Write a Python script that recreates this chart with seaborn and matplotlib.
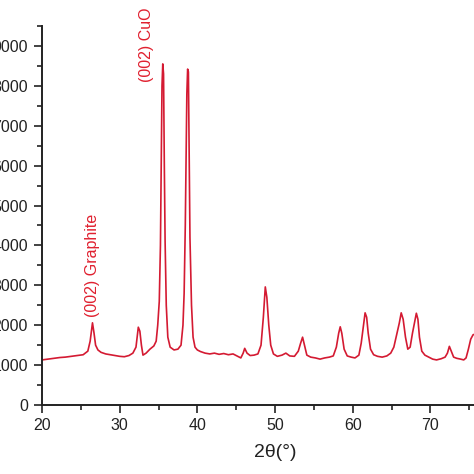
import pandas as pd
import matplotlib
matplotlib.use("Agg")
import matplotlib.pyplot as plt
import seaborn as sns
from matplotlib.ticker import MultipleLocator

# XRD pattern (2theta in degrees, intensity in counts)
two_theta = [
    20.0, 20.8, 21.5, 22.3, 23.0, 23.8, 24.5, 25.3, 25.9, 26.2, 26.5, 26.7, 26.9,
    27.2, 27.6, 28.2, 28.8, 29.4, 30.0, 30.6, 31.2, 31.7, 32.1, 32.4, 32.6, 32.8,
    33.0, 33.4, 33.9, 34.4, 34.7, 34.9, 35.1, 35.25, 35.35, 35.45, 35.55, 35.65,
    35.75, 35.85, 36.0, 36.2, 36.5, 37.0, 37.5, 37.9, 38.15, 38.3, 38.45, 38.55,
    38.65, 38.75, 38.85, 38.95, 39.05, 39.25, 39.45, 39.7, 40.0, 40.4, 41.0, 41.6,
    42.2, 42.8, 43.4, 44.0, 44.6, 45.2, 45.6, 45.9, 46.1, 46.4, 46.8, 47.3, 47.8,
    48.2, 48.5, 48.75, 48.95, 49.2, 49.45, 49.8, 50.3, 50.9, 51.4, 51.9, 52.5,
    53.0, 53.3, 53.55, 53.8, 54.1, 54.6, 55.2, 55.8, 56.4, 57.0, 57.5, 57.9, 58.2,
    58.4, 58.6, 58.9, 59.3, 59.8, 60.3, 60.8, 61.1, 61.4, 61.6, 61.8, 62.0, 62.3,
    62.7, 63.2, 63.8, 64.4, 64.9, 65.3, 65.7, 66.0, 66.25, 66.5, 66.8, 67.1, 67.4,
    67.7, 68.0, 68.2, 68.4, 68.6, 68.9, 69.3, 69.8, 70.3, 70.8, 71.4, 71.9, 72.2,
    72.45, 72.7, 73.0, 73.4, 73.9, 74.3, 74.6, 74.9, 75.2, 75.5, 75.8,
]
intensity = [
    1130, 1150, 1170, 1190, 1200, 1220, 1240, 1260, 1350, 1600, 2060, 1800, 1500,
    1380, 1320, 1280, 1260, 1240, 1220, 1210, 1240, 1300, 1450, 1950, 1850, 1500,
    1250, 1300, 1400, 1480, 1600, 2000, 2600, 4000, 6000, 8000, 8550, 8300,
    6000, 4100, 2500, 1700, 1450, 1380, 1400, 1500, 2000, 2800, 4500, 6200,
    7800, 8420, 8350, 6300, 4200, 2500, 1700, 1450, 1380, 1340, 1300, 1280,
    1300, 1270, 1290, 1260, 1280, 1220, 1180, 1300, 1420, 1300, 1240, 1250, 1280,
    1500, 2200, 2960, 2700, 2000, 1500, 1280, 1220, 1250, 1300, 1230, 1220,
    1350, 1550, 1700, 1500, 1250, 1200, 1180, 1150, 1180, 1200, 1230, 1450, 1800,
    1960, 1800, 1400, 1230, 1200, 1180, 1250, 1550, 2000, 2310, 2200, 1800, 1400,
    1260, 1220, 1200, 1230, 1300, 1450, 1800, 2050, 2310, 2150, 1700, 1400, 1450,
    1800, 2100, 2300, 2150, 1700, 1350, 1250, 1200, 1150, 1130, 1160, 1200, 1300,
    1470, 1350, 1200, 1170, 1150, 1130, 1180, 1400, 1650, 1760, 1780,
]

peak_labels = ["(002) CuO", "(002) Graphite"]
label_x = [33.5, 26.5]
label_y = [9020, 3500]

df = pd.DataFrame({"two_theta": two_theta, "intensity": intensity})

sns.set_style("ticks")
plt.rcParams["font.family"] = ["Liberation Sans", "DejaVu Sans"]

fig = plt.figure(figsize=(4.74, 4.74), dpi=100)
ax = fig.add_axes([42 / 474, 69 / 474, 466 / 474, 379 / 474])

sns.lineplot(data=df, x="two_theta", y="intensity", ax=ax,
             color="#d41a32", linewidth=1.2)

ax.set_xlim(20, 80)
ax.set_ylim(0, 9500)
ax.xaxis.set_major_locator(MultipleLocator(10))
ax.xaxis.set_minor_locator(MultipleLocator(5))
ax.yaxis.set_major_locator(MultipleLocator(1000))
ax.yaxis.set_minor_locator(MultipleLocator(500))
ax.tick_params(which="major", length=6, width=1.2, labelsize=11.5, colors="#222222")
ax.tick_params(which="minor", length=3.5, width=1.2, colors="#222222")
ax.tick_params(axis="y", pad=4)

for side in ["top", "right"]:
    ax.spines[side].set_visible(False)
for side in ["left", "bottom"]:
    ax.spines[side].set_linewidth(1.4)
    ax.spines[side].set_color("#222222")

ax.set_xlabel("2θ(°)", fontsize=14, labelpad=8, color="#222222")
ax.set_ylabel("")

for txt, x, y in zip(peak_labels, label_x, label_y):
    ax.text(x, y, txt, rotation=90, color="#e0202f", fontsize=11.5,
            ha="center", va="center")

fig.savefig("out.png", dpi=100)
